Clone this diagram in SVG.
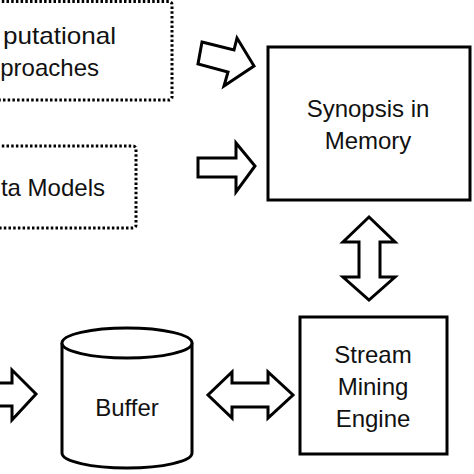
<svg xmlns="http://www.w3.org/2000/svg" width="474" height="474" viewBox="0 0 474 474">
<style>
.t{font-family:"Liberation Sans",Arial,sans-serif;font-size:24px;fill:#111}
.box{fill:#fff;stroke:#000;stroke-width:3}
.dot{fill:#fff;stroke:#000;stroke-width:3;stroke-dasharray:2.5 2.2}
.arr{fill:#fff;stroke:#000;stroke-width:3;stroke-linejoin:miter}
</style>
<rect width="474" height="474" fill="#fff"/>
<g id="computational">
<rect class="dot" x="-20" y="1.5" width="192" height="98.5" rx="3"/>
<text class="t" x="3" y="44" textLength="113" lengthAdjust="spacingAndGlyphs">putational</text>
<text class="t" x="99" y="76" text-anchor="end">proaches</text>
</g>
<g id="datamodels">
<rect class="dot" x="-20" y="146" width="156" height="82" rx="3"/>
<text class="t" x="105" y="196" text-anchor="end">ta Models</text>
</g>
<g id="synopsis">
<rect class="box" x="268" y="47" width="202" height="153"/>
<text class="t" x="368" y="117" text-anchor="middle">Synopsis in</text>
<text class="t" x="368" y="149" text-anchor="middle">Memory</text>
</g>
<g id="stream">
<rect class="box" x="300" y="317" width="147" height="137"/>
<text class="t" x="373" y="363" text-anchor="middle">Stream</text>
<text class="t" x="373" y="395" text-anchor="middle">Mining</text>
<text class="t" x="373" y="427" text-anchor="middle">Engine</text>
</g>
<g id="buffer">
<path class="box" d="M62,343 L62,453 A65,15 0 0 0 192,453 L192,343"/>
<ellipse class="box" cx="127" cy="343" rx="65" ry="15"/>
<text class="t" x="127" y="416" text-anchor="middle">Buffer</text>
</g>
<g id="connectors">
<polygon class="arr" points="202,42 234,50 237,38 254,66 224,86 228,72 198,64"/>
<polygon class="arr" points="198,158 236,158 236,143 255,166 236,192 236,177 198,177"/>
<polygon class="arr" points="359,242 343,242 369,217 395,242 380,242 380,277 395,277 369,300 343,277 359,277"/>
<polygon class="arr" points="232,383 232,372 208,395 232,418 232,407 268,407 268,418 293,395 268,372 268,383"/>
<polygon class="arr" points="-5,383 12,383 12,370 36,394 12,420 12,406 -5,406"/>
</g>
</svg>
